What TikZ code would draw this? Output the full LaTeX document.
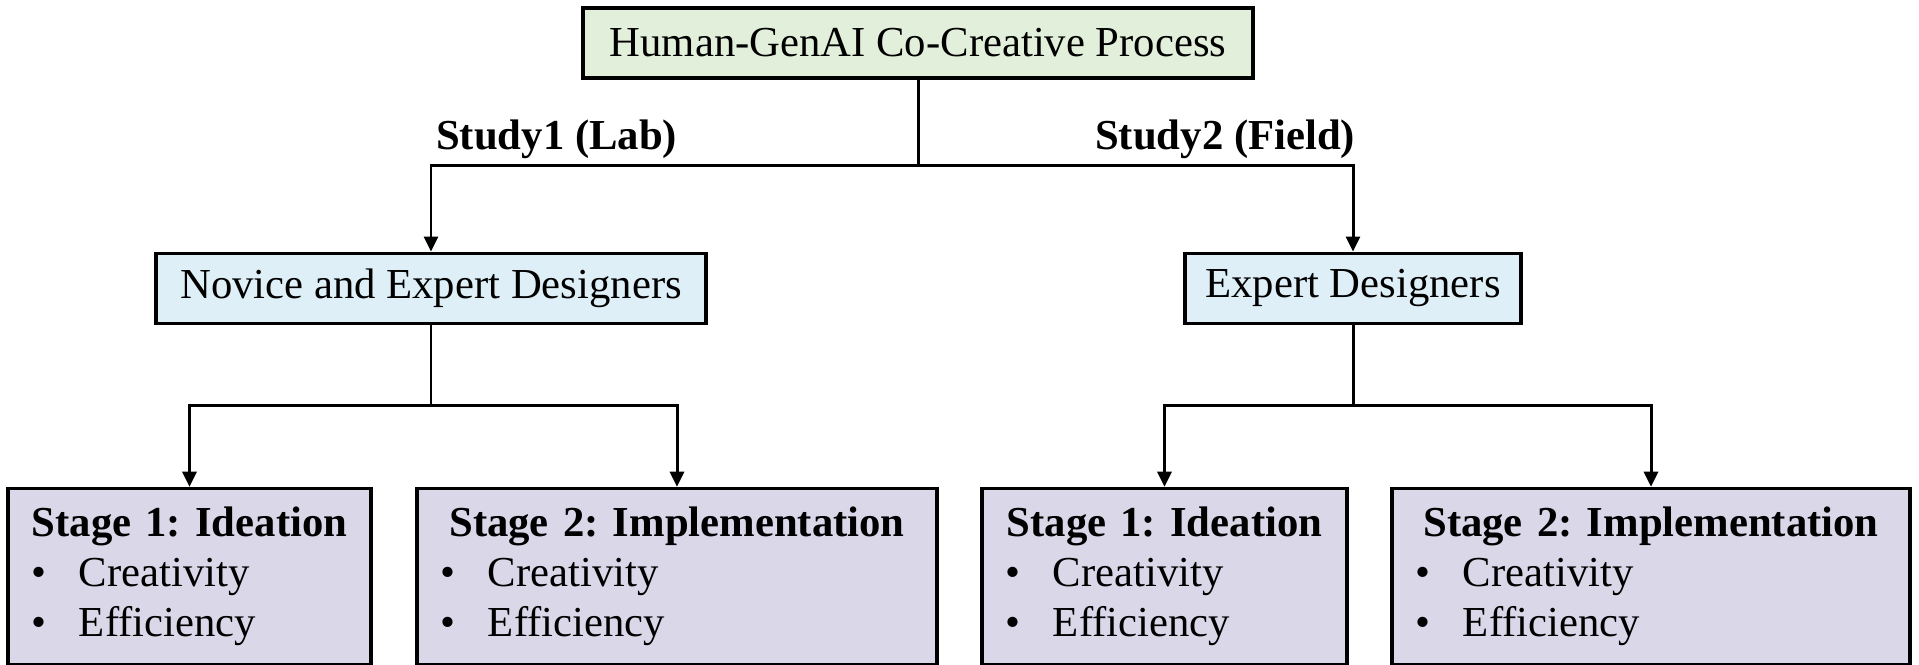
\documentclass[tikz,border=0pt]{standalone}
\usepackage{fontspec}
\setmainfont{Liberation Serif}
\usepackage{tikz}
\usetikzlibrary{arrows.meta, positioning}
\frenchspacing
\definecolor{procgreen}{HTML}{E2EFDA}
\definecolor{grpblue}{HTML}{DEEFF7}
\definecolor{stagelav}{HTML}{DAD7E9}
\tikzstyle{procbox}=[rectangle, draw=black, line width=0.9pt, fill=procgreen, minimum width=6.70cm, minimum height=0.70cm, inner sep=0pt]
\tikzstyle{groupbox}=[rectangle, draw=black, line width=0.9pt, fill=grpblue, minimum height=0.70cm, inner sep=0pt]
\tikzstyle{stagebox}=[rectangle, draw=black, line width=0.9pt, fill=stagelav, minimum height=1.76cm, inner xsep=0.15cm, inner ysep=0pt, align=left]
\tikzstyle{link}=[line width=0.85pt]
\tikzstyle{arrow}=[line width=0.85pt, -{Triangle[length=0.15cm, width=0.14cm]}]
\newcommand{\stagelist}[1]{\makebox[\linewidth][c]{\textbf{#1}}\\
  \hspace*{0.08cm}\makebox[0.48cm][l]{\textbullet}Creativity\\
  \hspace*{0.08cm}\makebox[0.48cm][l]{\textbullet}Efficiency}

\begin{document}
\begin{tikzpicture}[font=\fontsize{12.15}{14.3}\selectfont]
    \useasboundingbox (0,0) rectangle (19.19,-6.65);
    \node[procbox] (proc) at (9.18,-0.43) {Human-GenAI Co-Creative Process};
    \node[groupbox, minimum width=5.50cm, below=1.72cm of proc, xshift=-4.87cm] (mixed) {Novice and Expert Designers};
    \node[groupbox, minimum width=3.36cm, below=1.72cm of proc, xshift=4.35cm] (expert) {Expert Designers};
    \node[stagebox, text width=3.33cm, below=1.62cm of mixed, xshift=-2.415cm] (labideate) {\stagelist{Stage 1: Ideation}};
    \node[stagebox, text width=4.90cm, below=1.62cm of mixed, xshift=2.46cm] (labimpl) {\stagelist{Stage 2: Implementation}};
    \node[stagebox, text width=3.35cm, below=1.62cm of expert, xshift=-1.885cm] (fieldideate) {\stagelist{Stage 1: Ideation}};
    \node[stagebox, text width=4.88cm, below=1.62cm of expert, xshift=2.98cm] (fieldimpl) {\stagelist{Stage 2: Implementation}};

    \draw[link] (proc.south) -- ++(0,-0.855) coordinate (procsplit);
    \draw[arrow] (procsplit) -| node[pos=0.371, anchor=base, yshift=0.155cm]{\textbf{Study1 (Lab)}} (mixed.north);
    \draw[arrow] (procsplit) -| node[pos=0.353, anchor=base, yshift=0.155cm]{\textbf{Study2 (Field)}} (expert.north);
    \draw[link] (mixed.south) -- ++(0,-0.81) coordinate (labsplit);
    \draw[arrow] (labsplit) -| (labideate.north);
    \draw[arrow] (labsplit) -| (labimpl.north);
    \draw[link] (expert.south) -- ++(0,-0.81) coordinate (fieldsplit);
    \draw[arrow] (fieldsplit) -| (fieldideate.north);
    \draw[arrow] (fieldsplit) -| (fieldimpl.north);
\end{tikzpicture}
\end{document}
